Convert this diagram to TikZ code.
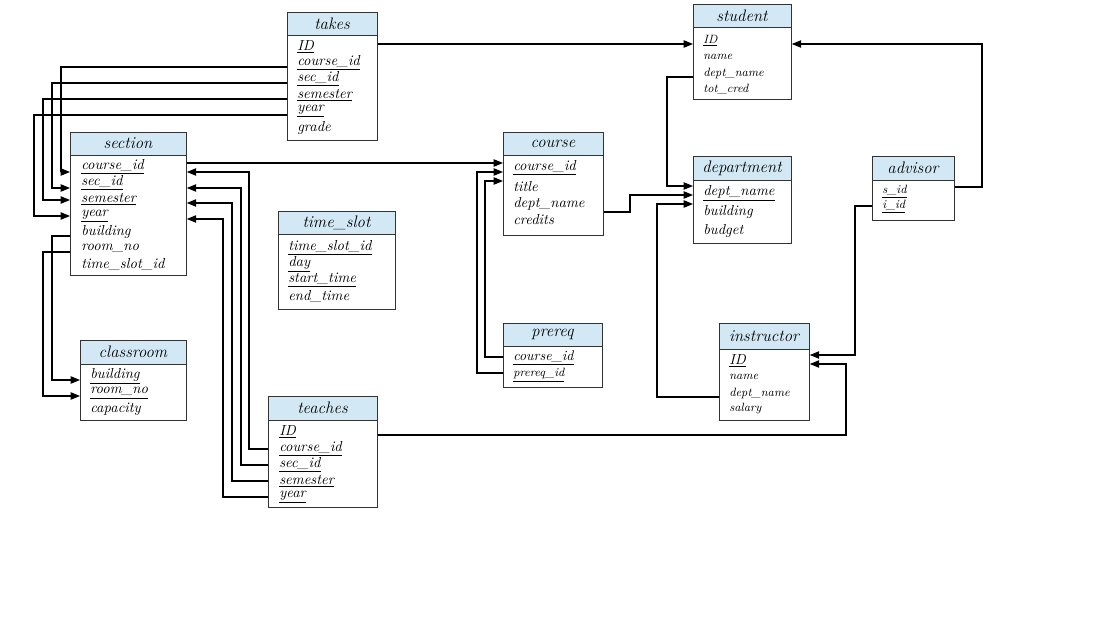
\documentclass[tikz,border=0pt]{standalone}
\usetikzlibrary{arrows.meta}
\definecolor{hdr}{HTML}{D3E8F5}
\begin{document}
\begin{tikzpicture}[x=0.75pt,y=-0.75pt,
  hd/.style={draw=black!80,fill=hdr,line width=0.6pt,inner sep=0,anchor=north west},
  bd/.style={draw=black!80,line width=0.6pt,inner sep=0,anchor=north west},
  rw/.style={anchor=west,inner sep=0,font=\fontsize{10.9}{12}\selectfont\itshape},
  sm/.style={anchor=west,inner sep=0,font=\fontsize{9}{10}\selectfont\itshape},
  ar/.style={line width=0.8pt,black,-{Triangle[length=7pt,width=5.5pt]}}]
\useasboundingbox (0,0) rectangle (1120,628);
% table macro: name, x1, x2, ytop, ymid, ybot, title
\newcommand\tbl[7]{%
  \node[hd,minimum width={(#3-#2)*0.75pt},minimum height={(#5-#4)*0.75pt}] (#1h) at (#2,#4) {};
  \node[font=\fontsize{12.5}{14}\selectfont\itshape] (#1t) at ({(#2+#3)/2},{(#4+#5)/2}) {#7};
  \node[bd,minimum width={(#3-#2)*0.75pt},minimum height={(#6-#5)*0.75pt}] (#1) at (#2,#5) {};}
\tbl{takes}{287}{377}{12}{35}{140}{takes}
\node[rw] (tk1) at (297,47) {\underline{ID}};
\node[rw] (tk2) at (297,63) {\underline{course\_id}};
\node[rw] (tk3) at (297,79) {\underline{sec\_id}};
\node[rw] (tk4) at (297,95) {\underline{semester}};
\node[rw] (tk5) at (297,111) {\underline{year}};
\node[rw] (tk6) at (297,128) {grade};
\tbl{student}{693}{791}{4}{27}{99}{student}
\node[sm] (st1) at (703,41) {\underline{ID}};
\node[sm] (st2) at (703,57) {name};
\node[sm] (st3) at (703,73) {dept\_name};
\node[sm] (st4) at (703,89) {tot\_cred};
\tbl{section}{70}{186}{132}{155}{275}{section}
\node[rw] (se1) at (81,167) {\underline{course\_id}};
\node[rw] (se2) at (81,183) {\underline{sec\_id}};
\node[rw] (se3) at (81,199) {\underline{semester}};
\node[rw] (se4) at (81,216) {\underline{year}};
\node[rw] (se5) at (81,232) {building};
\node[rw] (se6) at (81,248) {room\_no};
\node[rw] (se7) at (81,264) {time\_slot\_id};
\tbl{course}{503}{603}{132}{155}{235}{course}
\node[rw] (co1) at (513,168) {\underline{course\_id}};
\node[rw] (co2) at (513,187) {title};
\node[rw] (co3) at (513,204) {dept\_name};
\node[rw] (co4) at (513,220) {credits};
\tbl{department}{693}{791}{156}{180}{243}{department}
\node[rw] (de1) at (703,193) {\underline{dept\_name}};
\node[rw] (de2) at (703,212) {building};
\node[rw] (de3) at (703,231) {budget};
\tbl{advisor}{872}{954}{156}{180}{220}{advisor}
\node[sm] (ad1) at (882,192) {\underline{s\_id}};
\node[sm] (ad2) at (882,207) {\underline{i\_id}};
\tbl{timeslot}{278}{395}{211}{234}{309}{time\_slot}
\node[rw] (ts1) at (288,248) {\underline{time\_slot\_id}};
\node[rw] (ts2) at (288,264) {\underline{day}};
\node[rw] (ts3) at (288,280) {\underline{start\_time}};
\node[rw] (ts4) at (288,296) {end\_time};
\tbl{prereq}{503}{602}{323}{346}{387}{prereq}
\node[rw,font=\fontsize{10.5}{12}\selectfont\itshape] (pr1) at (513,358) {\underline{course\_id}};
\node[sm] (pr2) at (513,375) {\underline{prereq\_id}};
\tbl{instructor}{719}{809}{323}{349}{420}{instructor}
\node[rw] (in1) at (729,361) {\underline{ID}};
\node[sm] (in2) at (729,377) {name};
\node[sm] (in3) at (729,393) {dept\_name};
\node[sm] (in4) at (729,409) {salary};
\tbl{classroom}{80}{186}{340}{364}{420}{classroom}
\node[rw] (cl1) at (90,376) {\underline{building}};
\node[rw] (cl2) at (90,393) {\underline{room\_no}};
\node[rw] (cl3) at (90,409) {capacity};
\tbl{teaches}{268}{377}{396}{420}{507}{teaches}
\node[rw] (te1) at (279,432) {\underline{ID}};
\node[rw] (te2) at (279,449) {\underline{course\_id}};
\node[rw] (te3) at (279,465) {\underline{sec\_id}};
\node[rw] (te4) at (279,481) {\underline{semester}};
\node[rw] (te5) at (279,497) {\underline{year}};
% connectors
\draw[ar] (takes.east |- 0,44) -- (student.west |- 0,44);
\draw[ar] (takes.west |- 0,67) -| (61,172) -- (section.west |- 0,172);
\draw[ar] (takes.west |- 0,83) -| (52,188) -- (section.west |- 0,188);
\draw[ar] (takes.west |- 0,99) -| (43,200) -- (section.west |- 0,200);
\draw[ar] (takes.west |- 0,115) -| (34,216) -- (section.west |- 0,216);
\draw[ar] (section.west |- 0,236) -| (52,380) -- (classroom.west |- 0,380);
\draw[ar] (section.west |- 0,252) -| (43,396) -- (classroom.west |- 0,396);
\draw[ar] (section.east |- 0,163) -- (course.west |- 0,163);
\draw[ar] (teaches.west |- 0,449) -| (249,172) -- (section.east |- 0,172);
\draw[ar] (teaches.west |- 0,465) -| (241,188) -- (section.east |- 0,188);
\draw[ar] (teaches.west |- 0,481) -| (232,203) -- (section.east |- 0,203);
\draw[ar] (teaches.west |- 0,497) -| (223,219) -- (section.east |- 0,219);
\draw[ar] (prereq.west |- 0,373) -| (477,172) -- (course.west |- 0,172);
\draw[ar] (prereq.west |- 0,357) -| (485,181) -- (course.west |- 0,181);
\draw[ar] (student.west |- 0,77) -| (667,186) -- (department.west |- 0,186);
\draw[ar] (course.east |- 0,212) -| (630,195) -- (department.west |- 0,195);
\draw[ar] (instructor.west |- 0,397) -| (657,204) -- (department.west |- 0,204);
\draw[ar] (advisor.east |- 0,187) -| (982,44) -- (student.east |- 0,44);
\draw[ar] (advisor.west |- 0,206) -| (855,355) -- (instructor.east |- 0,355);
\draw[ar] (teaches.east |- 0,435) -| (846,364) -- (instructor.east |- 0,364);
\end{tikzpicture}
\end{document}
